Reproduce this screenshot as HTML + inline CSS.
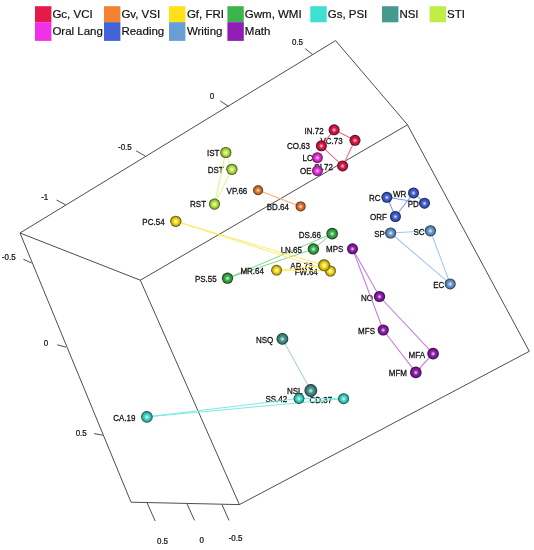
<!DOCTYPE html>
<html lang="en"><head><meta charset="utf-8"><title>3D MDS plot</title>
<style>html,body{margin:0;padding:0;background:#fff}body{width:534px;height:550px;overflow:hidden}svg{display:block}text{font-family:"Liberation Sans",Arial,Helvetica,sans-serif}.lg{font-size:11.5px;fill:#111;stroke:#111;stroke-width:0.2}.tk{font-size:9px;fill:#111;text-anchor:middle;stroke:#111;stroke-width:0.24}.lb{font-size:8.9px;fill:#111;text-anchor:end;stroke:#111;stroke-width:0.28}.bx{stroke:#363636;stroke-width:0.88;fill:none}.ln{stroke-width:1.05;fill:none}</style></head><body>
<svg width="534" height="550" viewBox="0 0 534 550">
<defs>
<radialGradient id="g-gc" cx="50%" cy="50%" r="50%" fx="50%" fy="52%"><stop offset="0" stop-color="#fbdce4"/><stop offset="0.2" stop-color="#f07a97"/><stop offset="0.42" stop-color="#df1849"/><stop offset="0.66" stop-color="#c1153f"/><stop offset="0.82" stop-color="#8f102e"/><stop offset="0.93" stop-color="#570a1c"/><stop offset="1" stop-color="#330610"/></radialGradient>
<radialGradient id="g-gv" cx="50%" cy="50%" r="50%" fx="50%" fy="52%"><stop offset="0" stop-color="#fcece0"/><stop offset="0.2" stop-color="#f3b486"/><stop offset="0.42" stop-color="#e4792e"/><stop offset="0.66" stop-color="#c56927"/><stop offset="0.82" stop-color="#924e1d"/><stop offset="0.93" stop-color="#593012"/><stop offset="1" stop-color="#341c0a"/></radialGradient>
<radialGradient id="g-gf" cx="50%" cy="50%" r="50%" fx="50%" fy="52%"><stop offset="0" stop-color="#fffadc"/><stop offset="0.2" stop-color="#ffee7a"/><stop offset="0.42" stop-color="#f7da18"/><stop offset="0.66" stop-color="#d6bd15"/><stop offset="0.82" stop-color="#9e8c10"/><stop offset="0.93" stop-color="#61560a"/><stop offset="1" stop-color="#383206"/></radialGradient>
<radialGradient id="g-gwm" cx="50%" cy="50%" r="50%" fx="50%" fy="52%"><stop offset="0" stop-color="#e2f4e4"/><stop offset="0.2" stop-color="#8ed497"/><stop offset="0.42" stop-color="#3aaf49"/><stop offset="0.66" stop-color="#32973f"/><stop offset="0.82" stop-color="#25702e"/><stop offset="0.93" stop-color="#17441c"/><stop offset="1" stop-color="#0d2810"/></radialGradient>
<radialGradient id="g-gs" cx="50%" cy="50%" r="50%" fx="50%" fy="52%"><stop offset="0" stop-color="#e2faf8"/><stop offset="0.2" stop-color="#90ede4"/><stop offset="0.42" stop-color="#3ed9ca"/><stop offset="0.66" stop-color="#36bcaf"/><stop offset="0.82" stop-color="#288b81"/><stop offset="0.93" stop-color="#18554f"/><stop offset="1" stop-color="#0e312e"/></radialGradient>
<radialGradient id="g-nsi" cx="50%" cy="50%" r="50%" fx="50%" fy="52%"><stop offset="0" stop-color="#e3f0ee"/><stop offset="0.2" stop-color="#94c4bf"/><stop offset="0.42" stop-color="#44948c"/><stop offset="0.66" stop-color="#3b8179"/><stop offset="0.82" stop-color="#2b5f59"/><stop offset="0.93" stop-color="#1b3a37"/><stop offset="1" stop-color="#0f2220"/></radialGradient>
<radialGradient id="g-sti" cx="50%" cy="50%" r="50%" fx="50%" fy="52%"><stop offset="0" stop-color="#f5fde3"/><stop offset="0.2" stop-color="#daf693"/><stop offset="0.42" stop-color="#b9e843"/><stop offset="0.66" stop-color="#a0c93a"/><stop offset="0.82" stop-color="#76942b"/><stop offset="0.93" stop-color="#495b1a"/><stop offset="1" stop-color="#2a350f"/></radialGradient>
<radialGradient id="g-ol" cx="50%" cy="50%" r="50%" fx="50%" fy="52%"><stop offset="0" stop-color="#fde0fb"/><stop offset="0.2" stop-color="#f688f0"/><stop offset="0.42" stop-color="#e930df"/><stop offset="0.66" stop-color="#ca2ac1"/><stop offset="0.82" stop-color="#951f8f"/><stop offset="0.93" stop-color="#5b1357"/><stop offset="1" stop-color="#350b33"/></radialGradient>
<radialGradient id="g-rd" cx="50%" cy="50%" r="50%" fx="50%" fy="52%"><stop offset="0" stop-color="#e3e8f9"/><stop offset="0.2" stop-color="#92a5e8"/><stop offset="0.42" stop-color="#4160d2"/><stop offset="0.66" stop-color="#3853b5"/><stop offset="0.82" stop-color="#2a3d86"/><stop offset="0.93" stop-color="#192652"/><stop offset="1" stop-color="#0f1630"/></radialGradient>
<radialGradient id="g-wr" cx="50%" cy="50%" r="50%" fx="50%" fy="52%"><stop offset="0" stop-color="#e9f1f9"/><stop offset="0.2" stop-color="#a9c7e7"/><stop offset="0.42" stop-color="#679ad0"/><stop offset="0.66" stop-color="#5986b4"/><stop offset="0.82" stop-color="#426385"/><stop offset="0.93" stop-color="#283c51"/><stop offset="1" stop-color="#17232f"/></radialGradient>
<radialGradient id="g-ma" cx="50%" cy="50%" r="50%" fx="50%" fy="52%"><stop offset="0" stop-color="#eeddf4"/><stop offset="0.2" stop-color="#bf7cd4"/><stop offset="0.42" stop-color="#8d1daf"/><stop offset="0.66" stop-color="#7a1997"/><stop offset="0.82" stop-color="#5a1370"/><stop offset="0.93" stop-color="#370b44"/><stop offset="1" stop-color="#200728"/></radialGradient>
</defs>
<rect width="534" height="550" fill="#fff"/>
<g id="legend">
<rect x="35" y="6.2" width="16.4" height="16.1" fill="#E6194B"/><text class="lg" x="52.4" y="18.2">Gc, VCI</text>
<rect x="104" y="6.2" width="16.4" height="16.1" fill="#F58231"/><text class="lg" x="121.4" y="18.2">Gv, VSI</text>
<rect x="169.0" y="6.2" width="16.4" height="16.1" fill="#FFE119"/><text class="lg" x="186.9" y="18.2">Gf, FRI</text>
<rect x="227.4" y="6.2" width="16.4" height="16.1" fill="#3CB44B"/><text class="lg" x="244.8" y="18.2">Gwm, WMI</text>
<rect x="310.3" y="6.2" width="16.4" height="16.1" fill="#40E0D0"/><text class="lg" x="327.7" y="18.2">Gs, PSI</text>
<rect x="382" y="6.2" width="16.4" height="16.1" fill="#469990"/><text class="lg" x="399.4" y="18.2">NSI</text>
<rect x="429.6" y="6.2" width="16.4" height="16.1" fill="#BFEF45"/><text class="lg" x="447.0" y="18.2">STI</text>
<rect x="35" y="22.2" width="16.4" height="18.7" fill="#F032E6"/><text class="lg" x="52.4" y="35.2">Oral Lang</text>
<rect x="104" y="22.2" width="16.4" height="18.7" fill="#4363D8"/><text class="lg" x="121.4" y="35.2">Reading</text>
<rect x="169.0" y="22.2" width="16.4" height="18.7" fill="#6A9FD6"/><text class="lg" x="186.9" y="35.2">Writing</text>
<rect x="227.4" y="22.2" width="16.4" height="18.7" fill="#911EB4"/><text class="lg" x="244.8" y="35.2">Math</text>
</g>
<g id="box" class="bx">
<line x1="20" y1="233" x2="335.6" y2="40.6"/>
<line x1="335.6" y1="40.6" x2="407.5" y2="124.8"/>
<line x1="407.5" y1="124.8" x2="140.3" y2="280.2"/>
<line x1="20" y1="233" x2="140.3" y2="280.2"/>
<line x1="20" y1="233" x2="131" y2="502.2"/>
<line x1="131" y1="502.2" x2="239.4" y2="504.6"/>
<line x1="140.3" y1="280.2" x2="239.4" y2="504.6"/>
<line x1="239.4" y1="504.6" x2="529.3" y2="351.3"/>
<line x1="407.5" y1="124.8" x2="529.3" y2="351.3"/>
<line x1="65.5" y1="204.8" x2="56.5" y2="200"/>
<line x1="145.2" y1="156" x2="136.2" y2="150.9"/>
<line x1="228.5" y1="106.4" x2="220.4" y2="101"/>
<line x1="312.7" y1="54.6" x2="305.2" y2="48.6"/>
<line x1="31.5" y1="263" x2="23.4" y2="259.3"/>
<line x1="66" y1="347.2" x2="57.2" y2="344.8"/>
<line x1="102.8" y1="435.2" x2="94" y2="433.6"/>
<line x1="147.1" y1="502.8" x2="155.2" y2="521"/>
<line x1="187" y1="503.7" x2="194.5" y2="520.4"/>
<line x1="222" y1="504.5" x2="229" y2="520.4"/>
</g>
<g id="ticklabels">
<text class="tk" transform="translate(44.7,200.2) scale(0.89,1)">-1</text>
<text class="tk" transform="translate(124.9,150.2) scale(0.89,1)">-0.5</text>
<text class="tk" transform="translate(211.9,98.5) scale(0.89,1)">0</text>
<text class="tk" transform="translate(297.5,45.2) scale(0.89,1)">0.5</text>
<text class="tk" transform="translate(8.7,259.5) scale(0.89,1)">-0.5</text>
<text class="tk" transform="translate(46,346.0) scale(0.89,1)">0</text>
<text class="tk" transform="translate(81.2,436.4) scale(0.89,1)">0.5</text>
<text class="tk" transform="translate(162.5,544.2) scale(0.89,1)">0.5</text>
<text class="tk" transform="translate(201.7,543.2) scale(0.89,1)">0</text>
<text class="tk" transform="translate(235.6,541.2) scale(0.89,1)">-0.5</text>
</g>
<g id="links-back" class="ln">
<line x1="227.5" y1="278.2" x2="313.4" y2="249.0" stroke="#74CF80" stroke-width="0.9"/>
<line x1="227.5" y1="278.2" x2="332.2" y2="233.6" stroke="#74CF80" stroke-width="0.9"/>
<line x1="332.2" y1="233.6" x2="313.4" y2="249.0" stroke="#74CF80" stroke-width="0.9"/>
<line x1="386.9" y1="197.3" x2="424.5" y2="203.2" stroke="#859ae6"/>
<line x1="386.9" y1="197.3" x2="395.4" y2="216.5" stroke="#859ae6"/>
<line x1="413.5" y1="192.9" x2="395.4" y2="216.5" stroke="#859ae6"/>
<line x1="413.5" y1="192.9" x2="424.5" y2="203.2" stroke="#859ae6"/>
<line x1="390.6" y1="233.0" x2="430.4" y2="230.8" stroke="#A3C6EC"/>
<line x1="390.6" y1="233.0" x2="450.2" y2="283.9" stroke="#A3C6EC"/>
<line x1="430.4" y1="230.8" x2="450.2" y2="283.9" stroke="#A3C6EC"/>
</g>
<g id="labels">
<text class="lb" transform="translate(323.6,133.6) scale(0.9,1)">IN.72</text>
<text class="lb" transform="translate(342.7,144.1) scale(0.9,1)">VC.73</text>
<text class="lb" transform="translate(310.0,149.4) scale(0.9,1)">CO.63</text>
<text class="lb" transform="translate(333.0,170.1) scale(0.9,1)">SI.72</text>
<text class="lb" transform="translate(312.8,161.4) scale(0.9,1)">LC</text>
<text class="lb" transform="translate(311.5,174.4) scale(0.9,1)">OE</text>
<text class="lb" transform="translate(219.5,156.1) scale(0.9,1)">IST</text>
<text class="lb" transform="translate(223.7,173.1) scale(0.9,1)">DST</text>
<text class="lb" transform="translate(206.1,207.4) scale(0.9,1)">RST</text>
<text class="lb" transform="translate(247.3,193.8) scale(0.9,1)">VP.66</text>
<text class="lb" transform="translate(289.0,210.1) scale(0.9,1)">BD.64</text>
<text class="lb" transform="translate(164.6,225.1) scale(0.9,1)">PC.54</text>
<text class="lb" transform="translate(216.7,282.1) scale(0.9,1)">PS.55</text>
<text class="lb" transform="translate(321.0,237.8) scale(0.9,1)">DS.66</text>
<text class="lb" transform="translate(302.0,252.7) scale(0.9,1)">LN.65</text>
<text class="lb" transform="translate(264.0,273.9) scale(0.9,1)">MR.64</text>
<text class="lb" transform="translate(317.8,274.5) scale(0.9,1)">FW.64</text>
<text class="lb" transform="translate(312.6,268.7) scale(0.9,1)">AR.73</text>
<text class="lb" transform="translate(343.4,252.1) scale(0.9,1)">MPS</text>
<text class="lb" transform="translate(373.0,300.6) scale(0.9,1)">NO</text>
<text class="lb" transform="translate(375.0,333.8) scale(0.9,1)">MFS</text>
<text class="lb" transform="translate(425.0,357.6) scale(0.9,1)">MFA</text>
<text class="lb" transform="translate(407.0,376.1) scale(0.9,1)">MFM</text>
<text class="lb" transform="translate(380.6,200.8) scale(0.9,1)">RC</text>
<text class="lb" transform="translate(406.4,196.6) scale(0.9,1)">WR</text>
<text class="lb" transform="translate(418.8,207.1) scale(0.9,1)">PD</text>
<text class="lb" transform="translate(386.8,219.8) scale(0.9,1)">ORF</text>
<text class="lb" transform="translate(384.9,236.7) scale(0.9,1)">SP</text>
<text class="lb" transform="translate(424.6,234.8) scale(0.9,1)">SC</text>
<text class="lb" transform="translate(444.4,287.7) scale(0.9,1)">EC</text>
<text class="lb" transform="translate(273.3,342.8) scale(0.9,1)">NSQ</text>
<text class="lb" transform="translate(287.2,401.8) scale(0.9,1)">SS.42</text>
<text class="lb" transform="translate(332.1,402.5) scale(0.9,1)">CD.37</text>
<text class="lb" transform="translate(302.5,394.4) scale(0.9,1)">NSL</text>
<text class="lb" transform="translate(135.5,420.6) scale(0.9,1)">CA.19</text>
</g>
<g id="links" class="ln">
<line x1="334.1" y1="129.8" x2="355.0" y2="140.3" stroke="#ef6a8a"/>
<line x1="334.1" y1="129.8" x2="321.4" y2="145.8" stroke="#ef6a8a"/>
<line x1="355.0" y1="140.3" x2="342.6" y2="165.9" stroke="#ef6a8a"/>
<line x1="321.4" y1="145.8" x2="342.6" y2="165.9" stroke="#ef6a8a"/>
<line x1="225.8" y1="152.5" x2="231.9" y2="169.3" stroke="#D2F27E" stroke-width="0.9"/>
<line x1="225.8" y1="152.5" x2="214.5" y2="204.1" stroke="#D2F27E" stroke-width="0.9"/>
<line x1="231.9" y1="169.3" x2="214.5" y2="204.1" stroke="#D2F27E" stroke-width="0.9"/>
<line x1="258.1" y1="190.2" x2="300.6" y2="206.4" stroke="#f8ae79"/>
<line x1="175.8" y1="221.3" x2="324.1" y2="265.3" stroke="#FFE85E" stroke-width="0.9"/>
<line x1="175.8" y1="221.3" x2="330.4" y2="271.0" stroke="#FFE85E" stroke-width="0.9"/>
<line x1="276.6" y1="270.2" x2="324.1" y2="265.3" stroke="#FFE85E" stroke-width="0.9"/>
<line x1="276.6" y1="270.2" x2="330.4" y2="271.0" stroke="#FFE85E" stroke-width="0.9"/>
<line x1="324.1" y1="265.3" x2="330.4" y2="271.0" stroke="#FFE85E" stroke-width="0.9"/>
<line x1="352.5" y1="248.8" x2="379.5" y2="296.5" stroke="#C878E4"/>
<line x1="352.5" y1="248.8" x2="383.2" y2="330.0" stroke="#C878E4"/>
<line x1="379.5" y1="296.5" x2="433.1" y2="353.6" stroke="#C878E4"/>
<line x1="383.2" y1="330.0" x2="415.8" y2="372.4" stroke="#C878E4"/>
<line x1="433.1" y1="353.6" x2="415.8" y2="372.4" stroke="#C878E4"/>
<line x1="282.4" y1="338.9" x2="310.8" y2="390.5" stroke="#86CCC4" stroke-width="0.9"/>
<line x1="146.9" y1="416.9" x2="299.0" y2="398.5" stroke="#70e8dc" stroke-width="0.9"/>
<line x1="146.9" y1="416.9" x2="343.6" y2="398.7" stroke="#70e8dc" stroke-width="0.9"/>
<line x1="299.0" y1="398.5" x2="343.6" y2="398.7" stroke="#70e8dc" stroke-width="0.9"/>
</g>
<g id="spheres">
<circle cx="334.1" cy="129.8" r="5.5" fill="url(#g-gc)"/>
<circle cx="355.0" cy="140.3" r="5.5" fill="url(#g-gc)"/>
<circle cx="321.4" cy="145.8" r="5.5" fill="url(#g-gc)"/>
<circle cx="342.6" cy="165.9" r="5.5" fill="url(#g-gc)"/>
<circle cx="317.4" cy="157.6" r="5.4" fill="url(#g-ol)"/>
<circle cx="317.4" cy="170.7" r="5.4" fill="url(#g-ol)"/>
<circle cx="225.8" cy="152.5" r="5.6" fill="url(#g-sti)"/>
<circle cx="231.9" cy="169.3" r="5.6" fill="url(#g-sti)"/>
<circle cx="214.5" cy="204.1" r="5.6" fill="url(#g-sti)"/>
<circle cx="258.1" cy="190.2" r="5.0" fill="url(#g-gv)"/>
<circle cx="300.6" cy="206.4" r="5.0" fill="url(#g-gv)"/>
<circle cx="175.8" cy="221.3" r="5.6" fill="url(#g-gf)"/>
<circle cx="227.5" cy="278.2" r="5.6" fill="url(#g-gwm)"/>
<circle cx="332.2" cy="233.6" r="5.8" fill="url(#g-gwm)"/>
<circle cx="313.4" cy="249.0" r="5.7" fill="url(#g-gwm)"/>
<circle cx="276.6" cy="270.2" r="5.4" fill="url(#g-gf)"/>
<circle cx="330.4" cy="271.0" r="5.5" fill="url(#g-gf)"/>
<circle cx="324.1" cy="265.3" r="6.0" fill="url(#g-gf)"/>
<circle cx="352.5" cy="248.8" r="5.5" fill="url(#g-ma)"/>
<circle cx="379.5" cy="296.5" r="5.6" fill="url(#g-ma)"/>
<circle cx="383.2" cy="330.0" r="5.6" fill="url(#g-ma)"/>
<circle cx="433.1" cy="353.6" r="5.8" fill="url(#g-ma)"/>
<circle cx="415.8" cy="372.4" r="5.8" fill="url(#g-ma)"/>
<circle cx="386.9" cy="197.3" r="5.5" fill="url(#g-rd)"/>
<circle cx="413.5" cy="192.9" r="5.5" fill="url(#g-rd)"/>
<circle cx="424.5" cy="203.2" r="5.5" fill="url(#g-rd)"/>
<circle cx="395.4" cy="216.5" r="5.5" fill="url(#g-rd)"/>
<circle cx="390.6" cy="233.0" r="5.6" fill="url(#g-wr)"/>
<circle cx="430.4" cy="230.8" r="5.6" fill="url(#g-wr)"/>
<circle cx="450.2" cy="283.9" r="5.5" fill="url(#g-wr)"/>
<circle cx="282.4" cy="338.9" r="5.9" fill="url(#g-nsi)"/>
<circle cx="299.0" cy="398.5" r="5.4" fill="url(#g-gs)"/>
<circle cx="343.6" cy="398.7" r="5.5" fill="url(#g-gs)"/>
<circle cx="310.8" cy="390.5" r="6.4" fill="url(#g-nsi)"/>
<circle cx="146.9" cy="416.9" r="5.8" fill="url(#g-gs)"/>
</g>
</svg></body></html>
